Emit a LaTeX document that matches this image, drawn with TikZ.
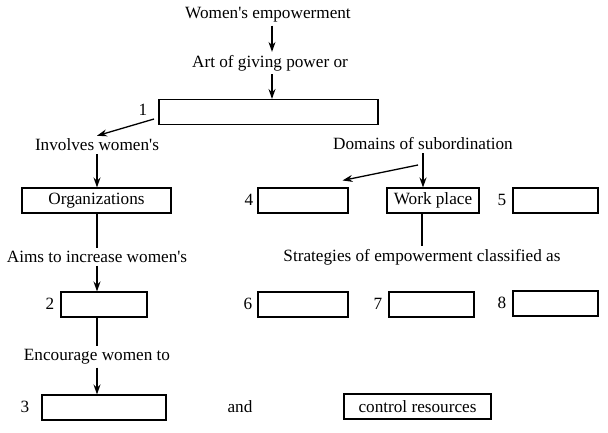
\documentclass[tikz,border=0pt]{standalone}
\usepackage{fontspec}
\setmainfont{Liberation Serif}
\usetikzlibrary{arrows.meta}
\newcommand{\qs}{\textquotesingle}
\tikzset{txt/.style={font=\fontsize{17.2}{20}\selectfont, inner sep=3pt},
blank/.style={draw=black, line width=1.1pt, minimum height=25pt, inner sep=0pt},
num/.style={font=\fontsize{17.2}{20}\selectfont, inner sep=0pt},
arr/.style={line width=1.3pt, -{Stealth[length=10pt,width=7pt]}},
lin/.style={line width=1.3pt}}

\begin{document}
\begin{tikzpicture}[x=1pt,y=-1pt]
		\useasboundingbox (0,0) rectangle (608,432);

		% left branch
		\node[txt] (wemp) at (268,15) {Women\qs s empowerment};
		\node[txt] (art) at (270,63) {Art of giving power or};
		\node[blank, minimum width=219pt] (b1) at (268.5,112) {};
		\node[num] (n1) at (143,110) {1};
		\coordinate (b1out) at (154,119);
		\node[txt] (inv) at (97,145) {Involves women\qs s};
		\node[blank, minimum width=149pt] (org) at (96.5,200.5) {\fontsize{17.2}{20}\selectfont Organizations};
		\node[txt] (aims) at (97,257) {Aims to increase women\qs s};
		\node[blank, minimum width=86pt] (b2) at (104,304.5) {};
		\node[num] (n2) at (50,304) {2};
		\node[txt] (enc) at (97,357) {Encourage women to};
		\node[blank, minimum width=124pt] (b3) at (104,407.5) {};
		\node[num] (n3) at (25,407) {3};
		\node[txt] (and) at (240,407) {and};
		\node[blank, minimum width=147pt] (ctrl) at (417.5,406.5) {\fontsize{17.2}{20}\selectfont control resources};

		% right branch
		\node[txt] (dom) at (423,144) {Domains of subordination};
		\coordinate (domout) at (418,165);
		\node[blank, minimum width=90pt] (b4) at (303,200.5) {};
		\node[num] (n4) at (249,200) {4};
		\node[blank, minimum width=92pt] (work) at (433,200.5) {\fontsize{17.2}{20}\selectfont Work place};
		\node[blank, minimum width=85pt] (b5) at (555.5,200.5) {};
		\node[num] (n5) at (502,200) {5};
		\node[txt] (strat) at (422,257) {Strategies of empowerment classified as};
		\node[blank, minimum width=90pt] (b6) at (303,304.5) {};
		\node[num] (n6) at (248,304) {6};
		\node[blank, minimum width=85pt] (b7) at (431.5,304.5) {};
		\node[num] (n7) at (378,304) {7};
		\node[blank, minimum width=85pt] (b8) at (555.5,303.5) {};
		\node[num] (n8) at (502,303) {8};

		\draw[arr] (wemp.south -| 272,0) -- (art.north -| 272,0);
		\draw[arr] (art.south -| 272,0) -- (b1.north -| 272,0);
		\draw[arr] (b1out) -- (inv.north);
		\draw[arr] (inv.south) -- (inv.south |- org.north);
		\draw[lin] (org.south -| aims.north) -- (aims.north);
		\draw[arr] (aims.south) -- (aims.south |- b2.north);
		\draw[lin] (b2.south -| enc.north) -- (enc.north);
		\draw[arr] (enc.south) -- (enc.south |- b3.north);

		\draw[arr] (dom.south) -- (dom.south |- work.north);
		\draw[arr] (domout) -- ([shift={(-6,-7)}]b4.north east);
		\draw[lin] (work.south -| strat.north) -- (strat.north);

	\end{tikzpicture}
\end{document}
